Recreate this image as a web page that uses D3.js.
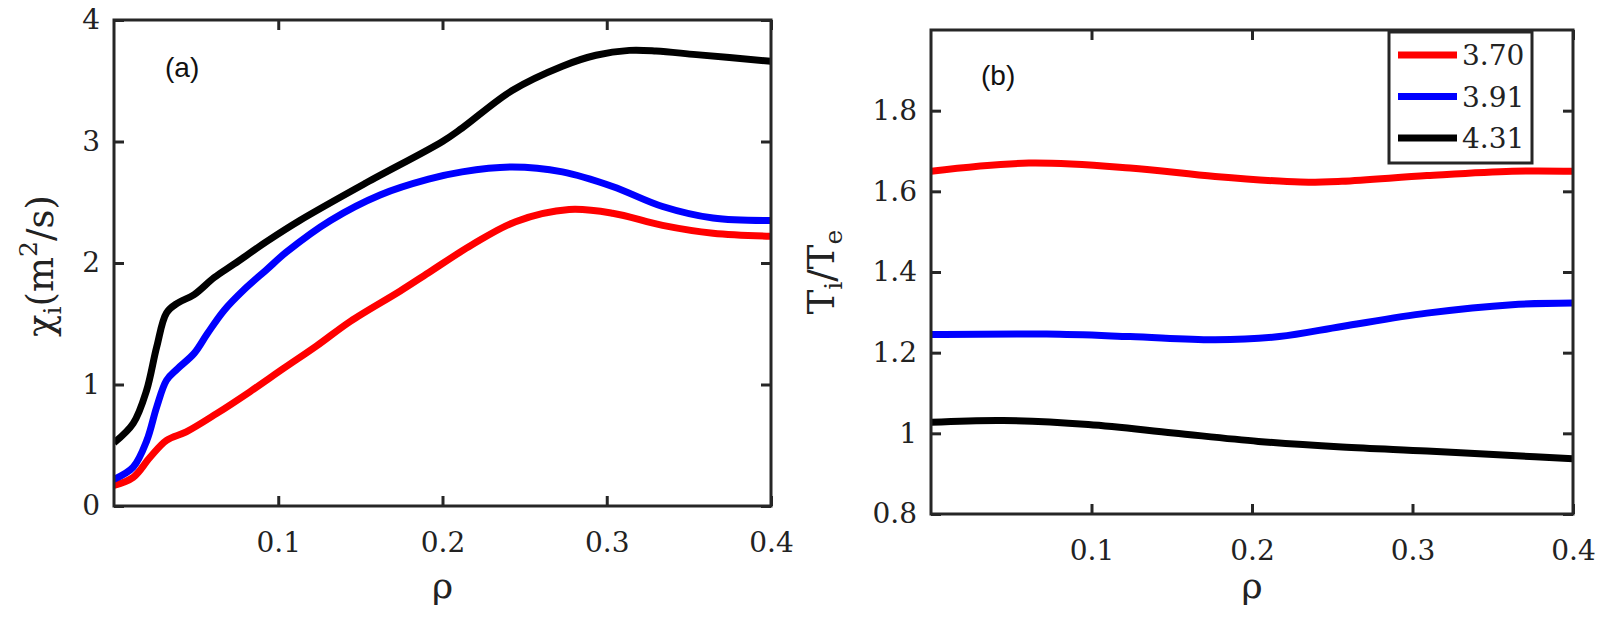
<!DOCTYPE html>
<html><head><meta charset="utf-8">
<script src="https://cdn.jsdelivr.net/npm/d3@7"></script>
<style>
html,body{margin:0;padding:0;background:#fff;}
svg{display:block;}
</style></head>
<body>
<svg id="chart" width="1600" height="622"></svg>
<script>
// ---------- Data ----------
const seriesNames = ["3.70", "3.91", "4.31"];
const seriesColors = ["#ff0000", "#0000ff", "#000000"];

// Panel (a): chi_i (m^2/s) vs rho
const rhoA_red   = [0, 0.0117, 0.0219, 0.032, 0.044, 0.0624, 0.0827, 0.103, 0.1236, 0.1439, 0.1743, 0.1915, 0.218, 0.2445, 0.2771, 0.3035, 0.334, 0.3647, 0.4];
const chiA_red   = [0.17, 0.236, 0.40, 0.54, 0.61, 0.76, 0.94, 1.13, 1.32, 1.52, 1.77, 1.92, 2.15, 2.34, 2.44, 2.41, 2.31, 2.245, 2.22];
const rhoA_blue  = [0, 0.0117, 0.02, 0.026, 0.032, 0.0387, 0.0488, 0.0569, 0.067, 0.0791, 0.0933, 0.105, 0.1318, 0.162, 0.1915, 0.2119, 0.2424, 0.273, 0.3035, 0.334, 0.3647, 0.4];
const chiA_blue  = [0.22, 0.32, 0.54, 0.815, 1.035, 1.13, 1.256, 1.42, 1.61, 1.78, 1.95, 2.09, 2.35, 2.56, 2.69, 2.75, 2.79, 2.75, 2.63, 2.465, 2.37, 2.35];
const rhoA_black = [0, 0.0117, 0.0198, 0.026, 0.032, 0.0387, 0.0488, 0.061, 0.073, 0.0933, 0.1131, 0.1536, 0.2, 0.2119, 0.2424, 0.273, 0.2934, 0.3138, 0.33, 0.3545, 0.4];
const chiA_black = [0.52, 0.68, 0.95, 1.31, 1.59, 1.67, 1.74, 1.88, 1.99, 2.18, 2.35, 2.66, 3.0, 3.11, 3.42, 3.62, 3.71, 3.75, 3.745, 3.715, 3.66];

// Panel (b): Ti/Te vs rho
const rhoB_red   = [0, 0.061, 0.124, 0.177, 0.23, 0.256, 0.309, 0.362, 0.4];
const tB_red     = [1.65, 1.670, 1.658, 1.637, 1.623, 1.625, 1.639, 1.65, 1.65];
const rhoB_blue  = [0, 0.072, 0.124, 0.177, 0.217, 0.256, 0.309, 0.362, 0.4];
const tB_blue    = [1.245, 1.246, 1.24, 1.232, 1.24, 1.265, 1.298, 1.319, 1.323];
const rhoB_black = [0, 0.045, 0.098, 0.151, 0.204, 0.256, 0.309, 0.362, 0.4];
const tB_black   = [1.0275, 1.032, 1.022, 1.001, 0.98, 0.966, 0.956, 0.945, 0.937];

const xTicks  = [0.1, 0.2, 0.3, 0.4];
const yTicksA = [0, 1, 2, 3, 4];
const yTicksB = [0.8, 1.0, 1.2, 1.4, 1.6, 1.8];

// ---------- Drawing ----------
const svg = d3.select("#chart");
const AX = "#262626";
const tickFont = "'DejaVu Serif', serif";

function zip(xs, ys){ return xs.map((x,i)=>[x, ys[i]]); }

function panel(opts){
  const {left, right, top, bottom, yDomain, yTicks, yFmt, series, tag, tagX, tagY, id} = opts;
  const x = d3.scaleLinear().domain([0, 0.4]).range([left, right]);
  const y = d3.scaleLinear().domain(yDomain).range([bottom, top]);
  const g = svg.append("g");

  g.append("clipPath").attr("id", id).append("rect")
    .attr("x", left).attr("y", top).attr("width", right-left).attr("height", bottom-top);

  const line = d3.line().x(d=>x(d[0])).y(d=>y(d[1])).curve(d3.curveCatmullRom.alpha(0.5));
  series.forEach((s,i)=>{
    g.append("path").datum(s.data)
      .attr("d", line).attr("fill","none")
      .attr("stroke", s.color).attr("stroke-width", 7)
      .attr("stroke-linejoin","round")
      .attr("clip-path", `url(#${id})`);
  });

  const tl = 10;
  const ax = g.append("g").attr("transform", `translate(0,${bottom})`)
    .call(d3.axisBottom(x).tickValues(xTicks).tickSize(-tl).tickPadding(26).tickFormat(d3.format(".1f")));
  const axT = g.append("g").attr("transform", `translate(0,${top})`)
    .call(d3.axisTop(x).tickValues(xTicks).tickSize(-tl).tickFormat(""));
  const ay = g.append("g").attr("transform", `translate(${left},0)`)
    .call(d3.axisLeft(y).tickValues(yTicks).tickSize(-tl).tickPadding(14).tickFormat(yFmt));
  const ayR = g.append("g").attr("transform", `translate(${right},0)`)
    .call(d3.axisRight(y).tickValues(yTicks).tickSize(-tl).tickFormat(""));
  [ax, axT, ay, ayR].forEach(a=>{
    a.select(".domain").remove();
    a.selectAll(".tick line").attr("stroke", AX).attr("stroke-width", 3);
    a.selectAll(".tick text").attr("fill", "#222").attr("font-family", tickFont).attr("font-size", 28);
  });
  ax.selectAll(".tick text").attr("dy", "0.71em");

  g.append("rect").attr("x", left).attr("y", top).attr("width", right-left).attr("height", bottom-top)
    .attr("fill","none").attr("stroke", AX).attr("stroke-width", 3);

  g.append("text").attr("x", tagX).attr("y", tagY).text(tag)
    .attr("font-family","'Liberation Sans', Arial, sans-serif").attr("font-size", 28).attr("fill","#111");

  g.append("text").attr("x", (left+right)/2).attr("y", 598).attr("text-anchor","middle")
    .attr("font-family", tickFont).attr("font-size", 36).attr("fill","#222").text("ρ");
  return {x, y, g};
}

panel({
  id:"clipA", left:114, right:771, top:20, bottom:506,
  yDomain:[0,4], yTicks:yTicksA, yFmt:d3.format("d"),
  series:[
    {data: zip(rhoA_red, chiA_red), color: seriesColors[0]},
    {data: zip(rhoA_blue, chiA_blue), color: seriesColors[1]},
    {data: zip(rhoA_black, chiA_black), color: seriesColors[2]}
  ],
  tag:"(a)", tagX:165, tagY:77
});

panel({
  id:"clipB", left:931, right:1573, top:30, bottom:514,
  yDomain:[0.8,2.0], yTicks:yTicksB, yFmt:d=> (d===1 ? "1" : d3.format(".1f")(d)),
  series:[
    {data: zip(rhoB_red, tB_red), color: seriesColors[0]},
    {data: zip(rhoB_blue, tB_blue), color: seriesColors[1]},
    {data: zip(rhoB_black, tB_black), color: seriesColors[2]}
  ],
  tag:"(b)", tagX:981, tagY:85
});

// y labels
const yl = svg.append("text")
  .attr("transform", "translate(53,266) rotate(-90)")
  .attr("text-anchor","middle").attr("font-family", tickFont).attr("font-size", 37).attr("fill","#222");
yl.append("tspan").text("χ");
yl.append("tspan").attr("font-size", 25).attr("dy", 8).text("i");
yl.append("tspan").attr("dy", -8).text("(m");
yl.append("tspan").attr("font-size", 25).attr("dy", -16).text("2");
yl.append("tspan").attr("dy", 16).text("/s)");

const yl2 = svg.append("text")
  .attr("transform", "translate(834,272) rotate(-90)")
  .attr("text-anchor","middle").attr("font-family", tickFont).attr("font-size", 37).attr("fill","#222");
yl2.append("tspan").text("T");
yl2.append("tspan").attr("font-size", 25).attr("dy", 8).text("i");
yl2.append("tspan").attr("dy", -8).text("/T");
yl2.append("tspan").attr("font-size", 25).attr("dy", 8).text("e");

// legend
const lg = svg.append("g");
lg.append("rect").attr("x", 1389).attr("y", 32).attr("width", 143).attr("height", 131)
  .attr("fill","#fff").attr("stroke", AX).attr("stroke-width", 3);
const legY = d3.scalePoint().domain(seriesNames).range([55, 138]);
seriesNames.forEach((n,i)=>{
  lg.append("line").attr("x1", 1398).attr("x2", 1457).attr("y1", legY(n)).attr("y2", legY(n))
    .attr("stroke", seriesColors[i]).attr("stroke-width", 7);
  lg.append("text").attr("x", 1462).attr("y", legY(n)).attr("dy","0.36em")
    .attr("font-family", tickFont).attr("font-size", 28).attr("fill","#222").text(n);
});
</script>
</body></html>
